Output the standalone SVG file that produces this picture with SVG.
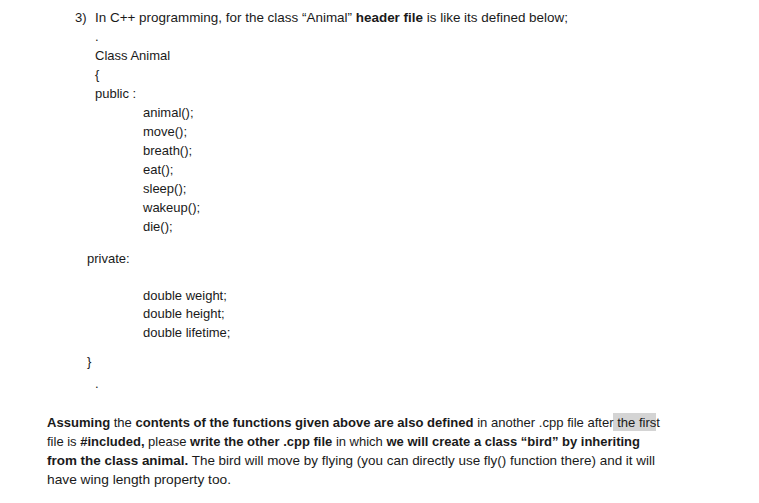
<svg xmlns="http://www.w3.org/2000/svg" width="759" height="503" viewBox="0 0 759 503">
<style>
text{font-family:"Liberation Sans",Arial,sans-serif;font-size:13px;fill:#1a1a1a}
.b{font-weight:bold}
</style>
<rect width="759" height="503" fill="#fff"/>
<g id="question">
<text x="75" y="22">3)</text>
<text x="95" y="22" textLength="473" lengthAdjust="spacingAndGlyphs">In C++ programming, for the class “Animal” <tspan class="b">header file</tspan> is like its defined below;</text>
<text x="95" y="41">.</text>
</g>
<g id="code">
<text x="95" y="60">Class Animal</text>
<text x="95" y="79">{</text>
<text x="95" y="98">public :</text>
<text x="143" y="117">animal();</text>
<text x="143" y="136">move();</text>
<text x="143" y="155">breath();</text>
<text x="143" y="174">eat();</text>
<text x="143" y="193">sleep();</text>
<text x="143" y="212">wakeup();</text>
<text x="143" y="231">die();</text>
<text x="87" y="263">private:</text>
<text x="143" y="300">double weight;</text>
<text x="143" y="318">double height;</text>
<text x="143" y="337">double lifetime;</text>
<text x="87" y="366">}</text>
<text x="95" y="388">.</text>
</g>
<g id="paragraph">
<rect x="613" y="413" width="43" height="18" fill="#d4d4d4"/>
<text x="47" y="427" textLength="613" lengthAdjust="spacingAndGlyphs"><tspan class="b">Assuming</tspan> the <tspan class="b">contents of the functions given above are also defined</tspan> in another .cpp file after the first</text>
<text x="47" y="446" textLength="593" lengthAdjust="spacingAndGlyphs">file is <tspan class="b">#included,</tspan> please <tspan class="b">write the other .cpp file</tspan> in which <tspan class="b">we will create a class “bird” by inheriting</tspan></text>
<text x="47" y="465" textLength="608" lengthAdjust="spacingAndGlyphs"><tspan class="b">from the class animal.</tspan> The bird will move by flying (you can directly use fly() function there) and it will</text>
<text x="47" y="484" textLength="184" lengthAdjust="spacingAndGlyphs">have wing length property too.</text>
</g>
</svg>
